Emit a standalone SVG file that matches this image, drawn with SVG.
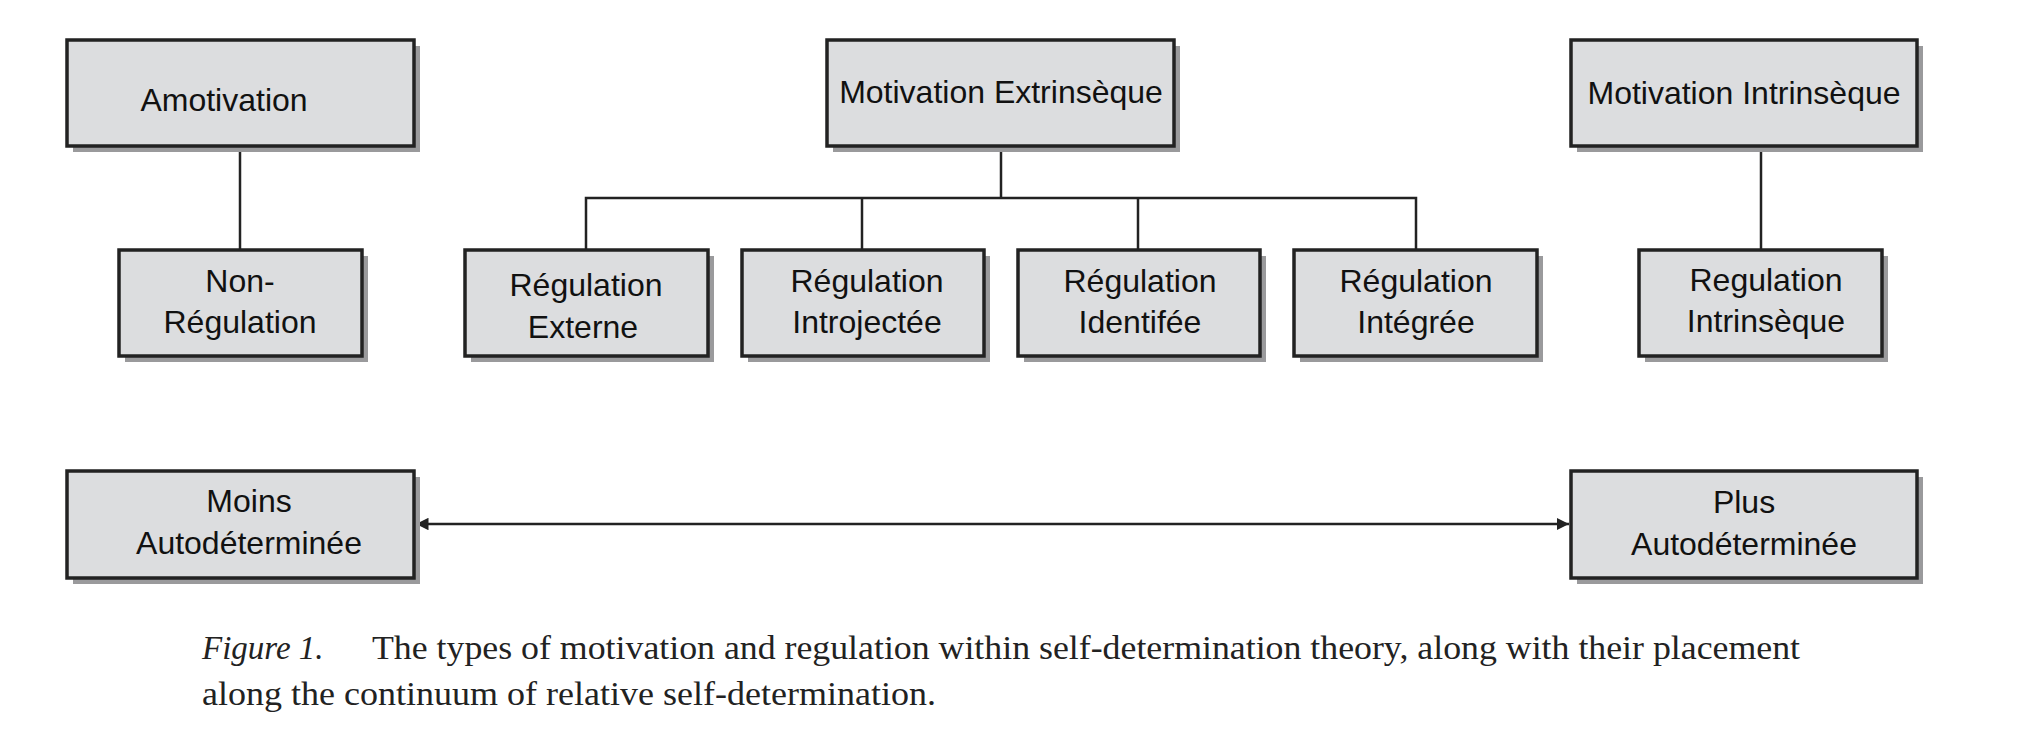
<svg xmlns="http://www.w3.org/2000/svg" width="2020" height="744" viewBox="0 0 2020 744">
<style>
.b{fill:#dcdddf;stroke:#222;stroke-width:3.5}
.s{fill:#9a9a9c}
.t{font-family:"Liberation Sans",Arial,sans-serif;font-size:32px;fill:#111;text-anchor:middle}
.c{stroke:#222;stroke-width:2.5;fill:none}
.cap{font-family:"Liberation Serif","Times New Roman",serif;font-size:33px;fill:#222}
</style>
<defs>
<marker id="ah" viewBox="0 0 10 10" refX="10" refY="5" markerWidth="5" markerHeight="5" orient="auto-start-reverse"><path d="M0,0 L10,5 L0,10 z" fill="#222"/></marker>
</defs>
<rect width="2020" height="744" fill="#fff"/>
<g id="connectors">
<line class="c" x1="240" y1="146" x2="240" y2="250"/>
<line class="c" x1="1001" y1="146" x2="1001" y2="198"/>
<polyline class="c" points="586,250 586,198 1416,198 1416,250"/>
<line class="c" x1="862" y1="198" x2="862" y2="250"/>
<line class="c" x1="1138" y1="198" x2="1138" y2="250"/>
<line class="c" x1="1761" y1="146" x2="1761" y2="250"/>
<line class="c" x1="416" y1="524" x2="1569" y2="524" stroke-width="3" marker-start="url(#ah)" marker-end="url(#ah)"/>
</g>
<g id="amotivation"><rect class="s" x="73" y="46" width="347" height="106"/><rect class="b" x="67" y="40" width="347" height="106"/><text class="t" x="224" y="111">Amotivation</text></g>
<g id="extrinseque"><rect class="s" x="833" y="46" width="347" height="106"/><rect class="b" x="827" y="40" width="347" height="106"/><text class="t" x="1001" y="103">Motivation Extrinsèque</text></g>
<g id="intrinseque"><rect class="s" x="1577" y="46" width="346" height="106"/><rect class="b" x="1571" y="40" width="346" height="106"/><text class="t" x="1744" y="104">Motivation Intrinsèque</text></g>
<g id="nonreg"><rect class="s" x="125" y="256" width="243" height="106"/><rect class="b" x="119" y="250" width="243" height="106"/><text class="t" x="240" y="292">Non-</text><text class="t" x="240" y="333">Régulation</text></g>
<g id="externe"><rect class="s" x="471" y="256" width="243" height="106"/><rect class="b" x="465" y="250" width="243" height="106"/><text class="t" x="586" y="296">Régulation</text><text class="t" x="583" y="338">Externe</text></g>
<g id="introjectee"><rect class="s" x="748" y="256" width="242" height="106"/><rect class="b" x="742" y="250" width="242" height="106"/><text class="t" x="867" y="292">Régulation</text><text class="t" x="867" y="333">Introjectée</text></g>
<g id="identifee"><rect class="s" x="1024" y="256" width="242" height="106"/><rect class="b" x="1018" y="250" width="242" height="106"/><text class="t" x="1140" y="292">Régulation</text><text class="t" x="1140" y="333">Identifée</text></g>
<g id="integree"><rect class="s" x="1300" y="256" width="243" height="106"/><rect class="b" x="1294" y="250" width="243" height="106"/><text class="t" x="1416" y="292">Régulation</text><text class="t" x="1416" y="333">Intégrée</text></g>
<g id="regintr"><rect class="s" x="1645" y="256" width="243" height="106"/><rect class="b" x="1639" y="250" width="243" height="106"/><text class="t" x="1766" y="291">Regulation</text><text class="t" x="1766" y="332">Intrinsèque</text></g>
<g id="moins"><rect class="s" x="73" y="477" width="347" height="107"/><rect class="b" x="67" y="471" width="347" height="107"/><text class="t" x="249" y="512">Moins</text><text class="t" x="249" y="554">Autodéterminée</text></g>
<g id="plus"><rect class="s" x="1577" y="477" width="346" height="107"/><rect class="b" x="1571" y="471" width="346" height="107"/><text class="t" x="1744" y="513">Plus</text><text class="t" x="1744" y="555">Autodéterminée</text></g>
<text class="cap" x="202" y="659" font-style="italic">Figure 1.</text>
<text class="cap" x="372" y="659" textLength="1428" lengthAdjust="spacingAndGlyphs">The types of motivation and regulation within self-determination theory, along with their placement</text>
<text class="cap" x="202" y="705" textLength="734" lengthAdjust="spacingAndGlyphs">along the continuum of relative self-determination.</text>
</svg>
